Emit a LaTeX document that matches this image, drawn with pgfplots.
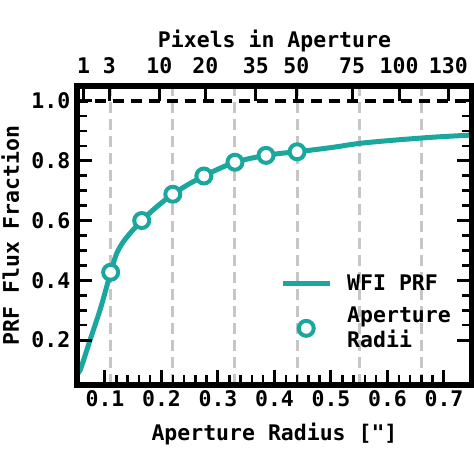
\documentclass[border=0pt]{standalone}
\usepackage{pgfplots}
\pgfplotsset{compat=1.18}
\usepackage{fontspec}
\setmainfont{DejaVu Sans Mono}
% same face without the TeX mapping, for a straight double quote
\font\plainquote="DejaVu Sans Mono/B" at 21.5pt

\definecolor{wfi}{HTML}{1AA89E}
\definecolor{gridgrey}{HTML}{C6C6C6}
\newcommand\chartfont{\fontsize{21.5}{25}\selectfont\bfseries}

\pgfplotsset{
  lineentry/.style={legend image code/.code={\draw[##1] (0pt,0pt) -- (47pt,0pt);}},
  markentry/.style={legend image code/.code={\draw[mark repeat=2,mark phase=2,##1] plot coordinates {(0pt,0pt) (23.5pt,0pt) (47pt,0pt)};}},
  pixline/.style={gridgrey, line width=3pt, dash pattern=on 11pt off 6pt, forget plot},
}

% curve of the PRF enclosed flux
\pgfplotstableread{
r     f
0.050 0.093
0.056 0.100
0.0735 0.200
0.0912 0.301
0.103 0.379
0.110 0.428
0.1207 0.490
0.1324 0.529
0.147 0.563
0.165 0.600
0.1915 0.646
0.220 0.688
0.2475 0.721
0.275 0.749
0.3025 0.774
0.330 0.795
0.3575 0.808
0.385 0.818
0.4125 0.825
0.440 0.830
0.500 0.844
0.550 0.858
0.600 0.867
0.660 0.876
0.700 0.881
0.750 0.886
}\prfcurve

% aperture radii (multiples of half a pixel)
\pgfplotstableread{
r     f
0.110 0.427
0.165 0.600
0.220 0.688
0.275 0.749
0.330 0.795
0.385 0.818
0.440 0.830
}\apradii

\begin{document}
\begin{tikzpicture}
\useasboundingbox (-76.75pt,-89pt) rectangle (397.25pt,385pt);
\begin{axis}[
  at={(0,0)}, anchor=south west,
  scale only axis, width=395.5pt, height=299pt,
  xmin=0.05, xmax=0.75, ymin=0.05, ymax=1.05,
  axis on top,
  axis line style={line width=6pt},
  tick align=inside,
  major tick length=15pt, minor tick length=10pt,
  every tick/.style={black, line width=3pt},
  minor tick style={line width=2.5pt},
  xtick={0.1,0.2,0.3,0.4,0.5,0.6,0.7},
  minor x tick num=4,
  xtick pos=lower,
  ytick={0.2,0.4,0.6,0.8,1.0},
  minor y tick num=3,
  ytick pos=both,
  yticklabel pos=left,
  ticklabel style={font=\chartfont},
  /pgf/number format/assume math mode=true,
  /pgf/number format/.cd, fixed, fixed zerofill, precision=1, /pgfplots/.cd,
  yticklabel style={xshift=-3pt},
  xticklabel style={yshift=-2pt},
  xlabel={Aperture Radius [{\plainquote\char34}]},
  ylabel={PRF Flux Fraction},
  label style={font=\chartfont},
  x label style={at={(axis description cs:0.5,-0.187)}, anchor=base},
  y label style={at={(axis description cs:-0.168,0.5)}, anchor=center},
  legend cell align=left,
  legend style={at={(rel axis cs:0.514,0.375)}, anchor=north west,
    draw=none, fill=none, inner sep=0pt, font=\chartfont,
    cells={align=left}, row sep=11pt, column sep=13pt},
]
\addplot[pixline] coordinates {(0.11,0.05) (0.11,1.05)};
\addplot[pixline] coordinates {(0.22,0.05) (0.22,1.05)};
\addplot[pixline] coordinates {(0.33,0.05) (0.33,1.05)};
\addplot[pixline] coordinates {(0.44,0.05) (0.44,1.05)};
\addplot[pixline] coordinates {(0.55,0.05) (0.55,1.05)};
\addplot[pixline] coordinates {(0.66,0.05) (0.66,1.05)};
\addplot[black, line width=4pt, dash pattern=on 11pt off 7pt, forget plot] coordinates {(0.05,1.0) (0.75,1.0)};
\addplot[wfi, line width=5pt, smooth, no marks, lineentry] table {\prfcurve};
\addlegendentry{WFI PRF}
\addplot[wfi, only marks, mark=*, mark size=7.5pt,
  mark options={fill=white, line width=4pt}, markentry] table {\apradii};
\addlegendentry{Aperture\\Radii}
\end{axis}
\begin{axis}[
  at={(0,0)}, anchor=south west,
  scale only axis, width=395.5pt, height=299pt,
  xmin=0.05, xmax=0.75, ymin=0.05, ymax=1.05,
  hide y axis,
  axis line style={line width=6pt},
  tick align=inside,
  major tick length=15pt,
  every tick/.style={black, line width=3pt},
  xtick={0.06206,0.10749,0.19625,0.27754,0.36716,0.43884,0.53746,0.62061,0.70760},
  xticklabels={1,3,10,20,35,50,75,100,130},
  minor x tick num=0,
  xtick pos=upper, xticklabel pos=upper,
  ticklabel style={font=\chartfont},
  xticklabel style={yshift=9pt},
  xlabel={Pixels in Aperture},
  label style={font=\chartfont},
  x label style={at={(axis description cs:0.5,1.13)}, anchor=base},
]
\end{axis}
\end{tikzpicture}
\end{document}
